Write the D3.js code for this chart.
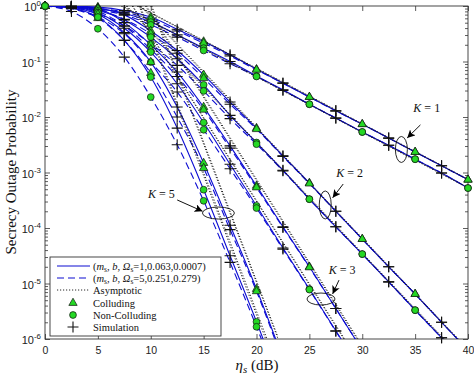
<!DOCTYPE html>
<html>
<head>
<meta charset="utf-8">
<script src="https://cdn.jsdelivr.net/npm/d3@7"></script>
<style>
body { margin: 0; background: #fff; }
svg { display: block; }
text { white-space: pre; }
</style>
</head>
<body>
<div id="chart"></div>
<script>
// SNR grid (dB)
var snrDb = [0, 2.5, 5, 7.5, 10, 12.5, 15, 17.5, 20, 22.5, 25, 27.5, 30, 32.5, 35, 37.5, 40];

// K = 1
var k1ColSolid  = [1, 0.993, 0.955, 0.832, 0.631, 0.380, 0.229, 0.132, 7.24e-2, 4.07e-2, 2.29e-2, 1.29e-2, 7.41e-3, 4.17e-3, 2.34e-3, 1.32e-3, 7.41e-4];
var k1ColDashed = [1, 0.989, 0.912, 0.776, 0.575, 0.355, 0.214, 0.126, 7.08e-2, 4.07e-2, 2.29e-2, 1.29e-2, 7.41e-3, 4.17e-3, 2.34e-3, 1.32e-3, 7.41e-4];
var k1NcSolid   = [1, 0.982, 0.891, 0.741, 0.513, 0.302, 0.174, 0.100, 5.50e-2, 3.09e-2, 1.70e-2, 9.55e-3, 5.37e-3, 3.09e-3, 1.74e-3, 9.77e-4, 5.25e-4];
var k1NcDashed  = [1, 0.973, 0.851, 0.692, 0.457, 0.275, 0.158, 9.12e-2, 5.37e-2, 3.02e-2, 1.70e-2, 9.55e-3, 5.37e-3, 3.09e-3, 1.74e-3, 9.77e-4, 5.25e-4];
// K = 2
var k2ColSolid  = [1, 0.977, 0.912, 0.692, 0.355, 0.158, 5.75e-2, 1.86e-2, 6.31e-3, 2.00e-3, 6.46e-4, 2.00e-4, 6.31e-5, 2.00e-5, 6.46e-6, 2.00e-6, 6.31e-7];
var k2ColDashed = [1, 0.966, 0.851, 0.575, 0.316, 0.141, 5.01e-2, 1.70e-2, 6.03e-3, 1.95e-3, 6.31e-4, 2.00e-4, 6.31e-5, 2.00e-5, 6.46e-6, 2.00e-6, 6.31e-7];
var k2NcSolid   = [1, 0.966, 0.832, 0.562, 0.275, 0.112, 3.80e-2, 1.07e-2, 3.47e-3, 1.10e-3, 3.31e-4, 1.05e-4, 3.39e-5, 1.07e-5, 3.31e-6, 1.05e-6, 3.31e-7];
var k2NcDashed  = [1, 0.944, 0.724, 0.437, 0.209, 8.51e-2, 2.95e-2, 9.33e-3, 3.24e-3, 1.07e-3, 3.31e-4, 1.05e-4, 3.39e-5, 1.07e-5, 3.31e-6, 1.05e-6, 3.31e-7];
// K = 3
var k3ColSolid  = [1, 0.977, 0.891, 0.501, 0.200, 6.46e-2, 1.51e-2, 3.02e-3, 5.75e-4, 1.05e-4, 2.00e-5, 3.55e-6, 6.31e-7];
var k3ColDashed = [1, 0.955, 0.794, 0.437, 0.166, 5.37e-2, 1.35e-2, 2.75e-3, 5.37e-4, 1.02e-4, 1.95e-5, 3.55e-6, 6.31e-7];
var k3NcSolid   = [1, 0.955, 0.759, 0.398, 0.148, 3.98e-2, 7.94e-3, 1.41e-3, 2.51e-4, 4.37e-5, 7.94e-6, 1.41e-6, 2.51e-7];
var k3NcDashed  = [1, 0.912, 0.631, 0.316, 9.77e-2, 2.82e-2, 5.89e-3, 1.17e-3, 2.29e-4, 4.17e-5, 7.76e-6, 1.38e-6, 2.51e-7];
// K = 5
var k5ColSolid  = [1, 0.933, 0.708, 0.331, 9.77e-2, 1.51e-2, 1.48e-3, 1.12e-4, 7.94e-6, 4.47e-7];
var k5ColDashed = [1, 0.891, 0.603, 0.240, 6.17e-2, 1.00e-2, 1.20e-3, 9.33e-5, 7.24e-6, 3.98e-7];
var k5NcSolid   = [1, 0.912, 0.631, 0.240, 5.25e-2, 6.31e-3, 4.90e-4, 3.16e-5, 2.04e-6, 1.12e-7];
var k5NcDashed  = [1, 0.794, 0.389, 0.120, 2.29e-2, 3.16e-3, 3.09e-4, 2.40e-5, 1.66e-6, 1.00e-7];

// asymptotes: [dB start, prob start, dB end, prob end]
var asymK1 = [[8.8, 1, 40, 7.6e-4], [8.7, 1, 40, 7.4e-4], [7.3, 1, 40, 5.37e-4], [7.2, 1, 40, 5.25e-4]];
var asymK2 = [[9.1, 1, 40, 6.6e-7], [9.0, 1, 40, 6.3e-7], [7.75, 1, 40, 3.55e-7], [7.65, 1, 40, 3.4e-7]];
var asymK3 = [[9.6, 1, 30, 7.6e-7], [9.5, 1, 30, 7.2e-7], [8.3, 1, 30, 3.16e-7], [8.25, 1, 30, 3.0e-7]];
var asymK5 = [[10.1, 1, 22, 1.12e-6], [10.0, 1, 22, 1.05e-6], [9.0, 1, 22, 3.16e-7], [8.9, 1, 22, 2.7e-7]];

var xTicks = [0, 5, 10, 15, 20, 25, 30, 35, 40];
var yExponents = [0, -1, -2, -3, -4, -5, -6];

// annotations: label, text pos, arrow from, arrow to, ellipse centre, ellipse radii (px)
var annLabels = ['1', '2', '3', '5'];
var annText   = [[36.1, 1.45e-2], [28.8, 1.0e-3], [28.1, 1.75e-5], [11.0, 4.1e-4]];
var annFrom   = [[35.5, 7.2e-3], [28.2, 6.2e-4], [27.8, 1.15e-5], [12.5, 3.2e-4]];
var annTo     = [[34.25, 4.2e-3], [27.2, 3.5e-4], [27.2, 6.5e-6], [14.9, 2.0e-4]];
var annEll    = [[33.7, 2.6e-3], [26.5, 2.6e-4], [26.1, 5.25e-6], [16.4, 1.86e-4]];
var annRadii  = [[6, 13], [6, 14], [14, 6], [16, 6]];

var W = 474, H = 373;
var blue = '#0c0cd2';
var green = '#24d824';
var serif = '"Liberation Serif", "Times New Roman", serif';

var x = d3.scaleLinear().domain([0, 40]).range([45, 468]);
var y = d3.scaleLog().domain([1e-6, 1]).range([339, 6]);

var curves = [
    { v: k1ColSolid, col: true, dash: false }, { v: k1ColDashed, col: true, dash: true },
    { v: k1NcSolid, col: false, dash: false }, { v: k1NcDashed, col: false, dash: true },
    { v: k2ColSolid, col: true, dash: false }, { v: k2ColDashed, col: true, dash: true },
    { v: k2NcSolid, col: false, dash: false }, { v: k2NcDashed, col: false, dash: true },
    { v: k3ColSolid, col: true, dash: false }, { v: k3ColDashed, col: true, dash: true },
    { v: k3NcSolid, col: false, dash: false }, { v: k3NcDashed, col: false, dash: true },
    { v: k5ColSolid, col: true, dash: false }, { v: k5ColDashed, col: true, dash: true },
    { v: k5NcSolid, col: false, dash: false }, { v: k5NcDashed, col: false, dash: true }
];
var asymptotes = asymK1.concat(asymK2, asymK3, asymK5);

var svg = d3.select('#chart').append('svg')
    .attr('width', W)
    .attr('height', H)
    .style('font-family', '"Liberation Sans", Arial, sans-serif');

svg.append('rect').attr('width', W).attr('height', H).attr('fill', '#fff');

var defs = svg.append('defs');
defs.append('clipPath').attr('id', 'plot-clip').append('rect')
    .attr('x', x(0)).attr('y', y(1))
    .attr('width', x(40) - x(0)).attr('height', y(1e-6) - y(1));
defs.append('marker')
    .attr('id', 'arrow')
    .attr('viewBox', '0 0 10 10')
    .attr('refX', 10).attr('refY', 5)
    .attr('markerWidth', 8).attr('markerHeight', 8)
    .attr('markerUnits', 'userSpaceOnUse')
    .attr('orient', 'auto')
    .append('path').attr('d', 'M0,0 L10,5 L0,10 L2.5,5 Z').attr('fill', '#000');

// helper for sub/superscript text
function richText(sel, parts, size) {
    var shift = 0;
    parts.forEach(function(p) {
        var target = p.sub ? 2.5 : (p.sup ? -5 : 0);
        sel.append('tspan')
            .attr('dy', target - shift)
            .style('font-size', (p.sub || p.sup) ? (size * 0.72) + 'px' : size + 'px')
            .style('font-style', p.it ? 'italic' : 'normal')
            .text(p.t);
        shift = target;
    });
}

// axes (ticks inward, MATLAB style)
var xAxis = svg.append('g')
    .attr('transform', 'translate(0,' + y(1e-6) + ')')
    .call(d3.axisBottom(x).tickValues(xTicks).tickSize(-5).tickSizeOuter(0).tickPadding(8));
svg.append('g')
    .attr('transform', 'translate(0,' + y(1) + ')')
    .call(d3.axisTop(x).tickValues(xTicks).tickSize(-5).tickSizeOuter(0).tickFormat(''));

var minorTicks = [];
yExponents.forEach(function(e) {
    if (e === 0) return;
    for (var m = 2; m <= 9; m++) minorTicks.push(m * Math.pow(10, e));
});
var majorTicks = yExponents.map(function(e) { return Math.pow(10, e); });

svg.append('g')
    .attr('transform', 'translate(' + x(0) + ',0)')
    .call(d3.axisLeft(y).tickValues(majorTicks).tickSize(-5).tickSizeOuter(0).tickFormat(''));
svg.append('g')
    .attr('transform', 'translate(' + x(0) + ',0)')
    .call(d3.axisLeft(y).tickValues(minorTicks).tickSize(-3).tickSizeOuter(0).tickFormat(''));
svg.append('g')
    .attr('transform', 'translate(' + x(40) + ',0)')
    .call(d3.axisRight(y).tickValues(majorTicks).tickSize(-5).tickSizeOuter(0).tickFormat(''));
svg.append('g')
    .attr('transform', 'translate(' + x(40) + ',0)')
    .call(d3.axisRight(y).tickValues(minorTicks).tickSize(-3).tickSizeOuter(0).tickFormat(''));

svg.selectAll('.domain').remove();
svg.selectAll('.tick line').attr('stroke', '#333').attr('stroke-width', 0.8);
xAxis.selectAll('text').style('font-size', '10.5px').attr('fill', '#222');

// y tick labels 10^e
yExponents.forEach(function(e) {
    var t = svg.append('text')
        .attr('x', x(0) - 4)
        .attr('y', y(Math.pow(10, e)) + 5)
        .attr('text-anchor', 'end')
        .attr('fill', '#222');
    richText(t, [{ t: '10' }, { t: String(e), sup: true }], 11);
});

// frame
svg.append('rect')
    .attr('x', x(0)).attr('y', y(1))
    .attr('width', x(40) - x(0)).attr('height', y(1e-6) - y(1))
    .attr('fill', 'none').attr('stroke', '#333').attr('stroke-width', 0.9);

// curves
var plot = svg.append('g').attr('clip-path', 'url(#plot-clip)');
var line = d3.line()
    .x(function(d, i) { return x(snrDb[i]); })
    .y(function(d) { return y(d); })
    .curve(d3.curveMonotoneX);

curves.forEach(function(c) {
    plot.append('path')
        .attr('d', line(c.v))
        .attr('fill', 'none')
        .attr('stroke', blue)
        .attr('stroke-width', 1.1)
        .attr('stroke-dasharray', c.dash ? '7,4' : null);
});

asymptotes.forEach(function(a) {
    plot.append('line')
        .attr('x1', x(a[0])).attr('y1', y(a[1]))
        .attr('x2', x(a[2])).attr('y2', y(a[3]))
        .attr('stroke', '#111')
        .attr('stroke-width', 0.9)
        .attr('stroke-dasharray', '1.2,1.8');
});

// simulation crosses (odd grid points)
var marks = svg.append('g');
function drawPlus(g, cx, cy, s) {
    g.append('path')
        .attr('d', 'M' + (cx - s) + ',' + cy + 'H' + (cx + s) + 'M' + cx + ',' + (cy - s) + 'V' + (cy + s))
        .attr('stroke', '#111')
        .attr('stroke-width', 1.1)
        .attr('fill', 'none');
}
curves.forEach(function(c) {
    c.v.forEach(function(p, i) {
        if (i % 2 === 1 && p >= 9e-7) drawPlus(marks, x(snrDb[i]), y(p), 5.5);
    });
});

// analytical markers (every 5 dB)
var triangle = d3.symbol().type(d3.symbolTriangle).size(30);
curves.forEach(function(c) {
    c.v.forEach(function(p, i) {
        if (i % 2 !== 0 || p < 1e-6) return;
        if (c.col) {
            marks.append('path')
                .attr('d', triangle())
                .attr('transform', 'translate(' + x(snrDb[i]) + ',' + y(p) + ')')
                .attr('fill', green).attr('stroke', '#111').attr('stroke-width', 0.7);
        } else {
            marks.append('circle')
                .attr('cx', x(snrDb[i])).attr('cy', y(p)).attr('r', 3.4)
                .attr('fill', green).attr('stroke', '#111').attr('stroke-width', 0.7);
        }
    });
});

// annotations
annLabels.forEach(function(lbl, i) {
    svg.append('ellipse')
        .attr('cx', x(annEll[i][0])).attr('cy', y(annEll[i][1]))
        .attr('rx', annRadii[i][0]).attr('ry', annRadii[i][1])
        .attr('fill', 'none').attr('stroke', '#111').attr('stroke-width', 0.9);
    svg.append('line')
        .attr('x1', x(annFrom[i][0])).attr('y1', y(annFrom[i][1]))
        .attr('x2', x(annTo[i][0])).attr('y2', y(annTo[i][1]))
        .attr('stroke', '#111').attr('stroke-width', 1)
        .attr('marker-end', 'url(#arrow)');
    var t = svg.append('text')
        .attr('x', x(annText[i][0])).attr('y', y(annText[i][1]) + 4)
        .attr('text-anchor', 'middle')
        .style('font-family', serif)
        .attr('fill', '#111');
    richText(t, [{ t: 'K', it: true }, { t: ' = ' + lbl }], 12);
});

// legend
var lg = svg.append('g');
lg.append('rect')
    .attr('x', 50).attr('y', 257).attr('width', 171).attr('height', 79)
    .attr('fill', '#fff').attr('stroke', '#333').attr('stroke-width', 0.9);
var rowY = [266, 278, 290, 303, 315, 327];
var legendText = [
    [{ t: '(' }, { t: 'm', it: true }, { t: 's', sub: true }, { t: ', ' }, { t: 'b', it: true }, { t: ', ' }, { t: 'Ω', it: true }, { t: 's', sub: true }, { t: '=1,0.063,0.0007)' }],
    [{ t: '(' }, { t: 'm', it: true }, { t: 's', sub: true }, { t: ', ' }, { t: 'b', it: true }, { t: ', ' }, { t: 'Ω', it: true }, { t: 's', sub: true }, { t: '=5,0.251,0.279)' }],
    [{ t: 'Asymptotic' }],
    [{ t: 'Colluding' }],
    [{ t: 'Non-Colluding' }],
    [{ t: 'Simulation' }]
];
lg.append('line').attr('x1', 57).attr('x2', 90).attr('y1', rowY[0]).attr('y2', rowY[0])
    .attr('stroke', blue).attr('stroke-width', 1.1);
lg.append('line').attr('x1', 57).attr('x2', 90).attr('y1', rowY[1]).attr('y2', rowY[1])
    .attr('stroke', blue).attr('stroke-width', 1.1).attr('stroke-dasharray', '7,4');
lg.append('line').attr('x1', 57).attr('x2', 90).attr('y1', rowY[2]).attr('y2', rowY[2])
    .attr('stroke', '#111').attr('stroke-width', 0.9).attr('stroke-dasharray', '1.2,1.8');
lg.append('path').attr('d', triangle())
    .attr('transform', 'translate(73,' + rowY[3] + ')')
    .attr('fill', green).attr('stroke', '#111').attr('stroke-width', 0.7);
lg.append('circle').attr('cx', 73).attr('cy', rowY[4]).attr('r', 3.4)
    .attr('fill', green).attr('stroke', '#111').attr('stroke-width', 0.7);
drawPlus(lg, 73, rowY[5], 5.5);

legendText.forEach(function(parts, i) {
    var t = lg.append('text')
        .attr('x', 93).attr('y', rowY[i] + 3.5)
        .style('font-family', serif)
        .attr('fill', '#111');
    richText(t, parts, 10.5);
});

// axis titles
var xt = svg.append('text')
    .attr('x', 257).attr('y', 370)
    .attr('text-anchor', 'middle')
    .style('font-family', serif)
    .attr('fill', '#111');
richText(xt, [{ t: 'η', it: true }, { t: 's', it: true, sub: true }, { t: ' (dB)' }], 15);

svg.append('text')
    .attr('transform', 'translate(16,172) rotate(-90)')
    .attr('text-anchor', 'middle')
    .style('font-family', serif)
    .style('font-size', '15px')
    .attr('fill', '#111')
    .text('Secrecy Outage Probability');
</script>
</body>
</html>
